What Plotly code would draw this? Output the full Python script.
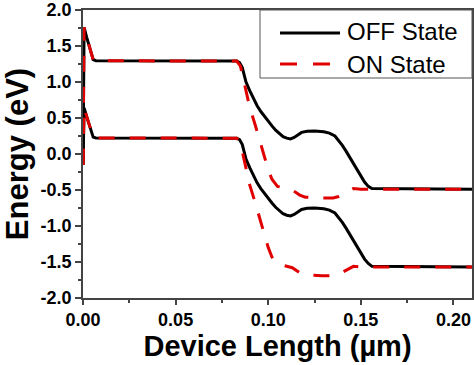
import plotly.graph_objects as go

# ---- data ----
off_x = [0.0, 0.0006, 0.002, 0.004, 0.0055, 0.007, 0.083, 0.0845, 0.086, 0.087, 0.088,
         0.090, 0.092, 0.094, 0.096, 0.098, 0.100, 0.102, 0.104, 0.106, 0.108, 0.110,
         0.112, 0.114, 0.116, 0.118, 0.121, 0.125, 0.130, 0.133, 0.136, 0.138, 0.140,
         0.142, 0.144, 0.146, 0.148, 0.150, 0.152, 0.154, 0.156, 0.21]
off_cb = [-0.15, 1.76, 1.62, 1.42, 1.31, 1.295, 1.29, 1.27, 1.20, 1.10, 1.00,
          0.88, 0.77, 0.67, 0.59, 0.52, 0.45, 0.39, 0.33, 0.28, 0.24, 0.22,
          0.21, 0.23, 0.27, 0.30, 0.315, 0.32, 0.31, 0.29, 0.25, 0.19, 0.12,
          0.04, -0.05, -0.14, -0.23, -0.31, -0.39, -0.45, -0.48, -0.49]
off_vb = [-0.15, 0.64, 0.52, 0.34, 0.235, 0.222, 0.22, 0.20, 0.13, 0.03, -0.07,
          -0.19, -0.30, -0.40, -0.48, -0.55, -0.62, -0.68, -0.74, -0.79, -0.83, -0.85,
          -0.86, -0.84, -0.80, -0.77, -0.755, -0.75, -0.76, -0.78, -0.82, -0.88, -0.95,
          -1.03, -1.12, -1.21, -1.30, -1.38, -1.46, -1.52, -1.56, -1.57]

on_x = [0.0, 0.0006, 0.002, 0.004, 0.0055, 0.007, 0.083, 0.085, 0.0875, 0.090, 0.093,
        0.096, 0.098, 0.100, 0.102, 0.105, 0.110, 0.113, 0.117, 0.120, 0.129, 0.135,
        0.138, 0.142, 0.146, 0.150, 0.21]
on_cb = [-0.15, 1.76, 1.62, 1.42, 1.31, 1.295, 1.29, 1.22, 0.95, 0.65, 0.40,
         0.12, -0.05, -0.22, -0.35, -0.45, -0.48, -0.50, -0.57, -0.60, -0.61, -0.61,
         -0.59, -0.54, -0.48, -0.49, -0.49]
on_vb = [-0.15, 0.64, 0.52, 0.34, 0.235, 0.222, 0.22, 0.15, -0.13, -0.43, -0.68,
         -0.96, -1.13, -1.30, -1.43, -1.53, -1.56, -1.58, -1.65, -1.68, -1.69, -1.69,
         -1.67, -1.62, -1.56, -1.57, -1.57]

series_names = ["OFF State", "ON State"]

x_ticks = [0.00, 0.05, 0.10, 0.15, 0.20]
x_tick_text = ["0.00", "0.05", "0.10", "0.15", "0.20"]
y_ticks = [-2.0, -1.5, -1.0, -0.5, 0.0, 0.5, 1.0, 1.5, 2.0]
y_tick_text = ["-2.0", "-1.5", "-1.0", "-0.5", "0.0", "0.5", "1.0", "1.5", "2.0"]

BLACK = "black"
RED = "#e00000"

fig = go.Figure()
black = dict(color=BLACK, width=3)
red = dict(color=RED, width=3, dash="16px,15px")

fig.add_trace(go.Scatter(x=off_x, y=off_cb, mode="lines", line=black, name=series_names[0],
                         showlegend=False))
fig.add_trace(go.Scatter(x=off_x, y=off_vb, mode="lines", line=black, name=series_names[0],
                         showlegend=False))
fig.add_trace(go.Scatter(x=on_x, y=on_cb, mode="lines", line=red, name=series_names[1],
                         showlegend=False))
fig.add_trace(go.Scatter(x=on_x, y=on_vb, mode="lines", line=red, name=series_names[1],
                         showlegend=False))

fam = "Liberation Sans, Arial, sans-serif"
tickfont = dict(family=fam, size=18, color="black", weight="bold")
xtitlefont = dict(family=fam, size=29, color="black", weight="bold")
ytitlefont = dict(family=fam, size=31, color="black", weight="bold")

W, H = 474, 365
L, R, T, B = 83, 2, 10, 67
pw, ph = W - L - R, H - T - B


def px_x(p):
    return (p - L) / pw


def px_y(p):
    return (H - B - p) / ph


# custom legend box (drawn in paper coordinates)
shapes = [
    dict(type="rect", xref="paper", yref="paper", x0=px_x(260), x1=1, y0=px_y(78), y1=1,
         line=dict(color="#555", width=1), fillcolor="white", layer="above"),
    dict(type="line", xref="paper", yref="paper", x0=px_x(280), x1=px_x(340),
         y0=px_y(33), y1=px_y(33), line=dict(color=BLACK, width=3), layer="above"),
    dict(type="line", xref="paper", yref="paper", x0=px_x(280), x1=px_x(297),
         y0=px_y(64), y1=px_y(64), line=dict(color=RED, width=3), layer="above"),
    dict(type="line", xref="paper", yref="paper", x0=px_x(313), x1=px_x(330),
         y0=px_y(64), y1=px_y(64), line=dict(color=RED, width=3), layer="above"),
]
legfont = dict(family=fam, size=24, color="black")
annotations = [
    dict(xref="paper", yref="paper", x=px_x(345), y=px_y(32), text=series_names[0],
         showarrow=False, xanchor="left", yanchor="middle", font=legfont),
    dict(xref="paper", yref="paper", x=px_x(345), y=px_y(64), text=series_names[1],
         showarrow=False, xanchor="left", yanchor="middle", font=legfont),
]

fig.update_layout(
    width=W, height=H,
    margin=dict(l=L, r=R, t=T, b=B, autoexpand=False),
    paper_bgcolor="white", plot_bgcolor="white",
    showlegend=False,
    shapes=shapes, annotations=annotations,
    xaxis=dict(range=[0, 0.21], tickvals=x_ticks, ticktext=x_tick_text,
               tickfont=tickfont, ticks="outside", ticklen=5, tickwidth=1.5, tickcolor="#444",
               showline=True, linecolor="#444", linewidth=1.5, mirror=True,
               showgrid=False, zeroline=False,
               minor=dict(dtick=0.025, tick0=0, ticks="outside", ticklen=3, tickcolor="#444"),
               title=dict(text="Device Length (µm)", font=xtitlefont, standoff=5)),
    yaxis=dict(range=[-2, 2], tickvals=y_ticks, ticktext=y_tick_text,
               tickfont=tickfont, ticks="outside", ticklen=6, tickwidth=1.5, tickcolor="#444",
               showline=True, linecolor="#444", linewidth=1.5, mirror=True,
               showgrid=False, zeroline=False,
               minor=dict(dtick=0.25, tick0=0, ticks="outside", ticklen=3, tickcolor="#444"),
               title=dict(text="Energy (eV)", font=ytitlefont, standoff=6)),
)

fig.write_html("out.html", config={"displayModeBar": False},
               post_script="document.body.style.margin='0px';")
